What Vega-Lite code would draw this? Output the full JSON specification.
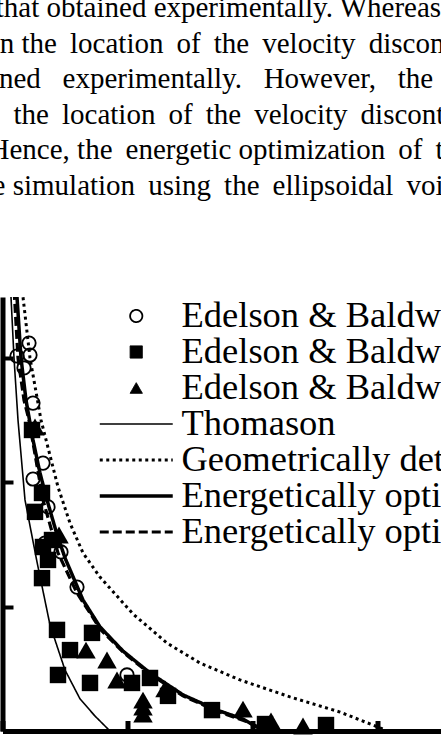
{
  "$schema": "https://vega.github.io/schema/vega-lite/v6.json",
  "autosize": "none",
  "width": 438.5,
  "height": 434,
  "padding": {"left": 2.5, "top": 297, "right": 0, "bottom": 7},
  "background": "white",
  "title": {
    "text": [
      "s\u00a0\u00a0that obtained experimentally. Whereas as",
      "n\u00a0in the\u2009 location\u2009 of\u2009 the\u2009 velocity\u2009 discontinuity",
      "tained \u00a0\u00a0experimentally. \u00a0\u00a0However, \u00a0\u00a0the",
      "on\u00a0\u00a0the\u2009 location\u2009 of\u2009 the\u2009 velocity\u2009 discontinuity",
      "s\u00a0Hence, the\u2009 energetic optimization\u2009 of\u2009 the",
      "\u00a0the simulation\u2009 using\u2009 the\u2009 ellipsoidal\u2009 voids"
    ],
    "anchor": "start",
    "frame": "group",
    "dx": -32.5,
    "offset": 96,
    "font": "Liberation Serif",
    "fontSize": 29,
    "fontWeight": "normal",
    "color": "black",
    "lineHeight": 35.6
  },
  "datasets": {
    "points": [
      {"series": "Edelson & Baldwin (1)", "x": 0.0106, "y": 1.558},
      {"series": "Edelson & Baldwin (1)", "x": 0.0058, "y": 1.506},
      {"series": "Edelson & Baldwin (1)", "x": 0.0110, "y": 1.510},
      {"series": "Edelson & Baldwin (1)", "x": 0.0086, "y": 1.458},
      {"series": "Edelson & Baldwin (1)", "x": 0.0122, "y": 1.317},
      {"series": "Edelson & Baldwin (1)", "x": 0.0162, "y": 1.076},
      {"series": "Edelson & Baldwin (1)", "x": 0.0122, "y": 1.012},
      {"series": "Edelson & Baldwin (1)", "x": 0.0182, "y": 0.900},
      {"series": "Edelson & Baldwin (1)", "x": 0.0170, "y": 0.755},
      {"series": "Edelson & Baldwin (1)", "x": 0.0234, "y": 0.719},
      {"series": "Edelson & Baldwin (1)", "x": 0.0298, "y": 0.578},
      {"series": "Edelson & Baldwin (1)", "x": 0.0498, "y": 0.225},
      {"series": "Edelson & Baldwin (2)", "x": 0.0118, "y": 1.209},
      {"series": "Edelson & Baldwin (2)", "x": 0.0158, "y": 0.956},
      {"series": "Edelson & Baldwin (2)", "x": 0.0130, "y": 0.880},
      {"series": "Edelson & Baldwin (2)", "x": 0.0198, "y": 0.767},
      {"series": "Edelson & Baldwin (2)", "x": 0.0162, "y": 0.739},
      {"series": "Edelson & Baldwin (2)", "x": 0.0182, "y": 0.687},
      {"series": "Edelson & Baldwin (2)", "x": 0.0158, "y": 0.614},
      {"series": "Edelson & Baldwin (2)", "x": 0.0218, "y": 0.406},
      {"series": "Edelson & Baldwin (2)", "x": 0.0270, "y": 0.325},
      {"series": "Edelson & Baldwin (2)", "x": 0.0358, "y": 0.394},
      {"series": "Edelson & Baldwin (2)", "x": 0.0222, "y": 0.225},
      {"series": "Edelson & Baldwin (2)", "x": 0.0350, "y": 0.193},
      {"series": "Edelson & Baldwin (2)", "x": 0.0518, "y": 0.193},
      {"series": "Edelson & Baldwin (2)", "x": 0.0590, "y": 0.213},
      {"series": "Edelson & Baldwin (2)", "x": 0.0662, "y": 0.141},
      {"series": "Edelson & Baldwin (2)", "x": 0.0838, "y": 0.084},
      {"series": "Edelson & Baldwin (2)", "x": 0.1050, "y": 0.028},
      {"series": "Edelson & Baldwin (2)", "x": 0.1294, "y": 0.024},
      {"series": "Edelson & Baldwin (3)", "x": 0.0130, "y": 1.221},
      {"series": "Edelson & Baldwin (3)", "x": 0.0226, "y": 0.787},
      {"series": "Edelson & Baldwin (3)", "x": 0.0334, "y": 0.325},
      {"series": "Edelson & Baldwin (3)", "x": 0.0418, "y": 0.285},
      {"series": "Edelson & Baldwin (3)", "x": 0.0458, "y": 0.205},
      {"series": "Edelson & Baldwin (3)", "x": 0.0562, "y": 0.124},
      {"series": "Edelson & Baldwin (3)", "x": 0.0562, "y": 0.096},
      {"series": "Edelson & Baldwin (3)", "x": 0.0562, "y": 0.068},
      {"series": "Edelson & Baldwin (3)", "x": 0.0650, "y": 0.169},
      {"series": "Edelson & Baldwin (3)", "x": 0.0962, "y": 0.088},
      {"series": "Edelson & Baldwin (3)", "x": 0.1074, "y": 0.040},
      {"series": "Edelson & Baldwin (3)", "x": 0.1202, "y": 0.020}
    ],
    "curves": [
      {"series": "Thomason", "x": 0.0022, "y": 2.133},
      {"series": "Thomason", "x": 0.0034, "y": 1.743},
      {"series": "Thomason", "x": 0.0046, "y": 1.498},
      {"series": "Thomason", "x": 0.0062, "y": 1.249},
      {"series": "Thomason", "x": 0.0090, "y": 0.928},
      {"series": "Thomason", "x": 0.0138, "y": 0.679},
      {"series": "Thomason", "x": 0.0190, "y": 0.426},
      {"series": "Thomason", "x": 0.0250, "y": 0.245},
      {"series": "Thomason", "x": 0.0310, "y": 0.129},
      {"series": "Thomason", "x": 0.0370, "y": 0.060},
      {"series": "Thomason", "x": 0.0430, "y": 0.0},
      {"series": "Geometrically determined", "x": 0.0062, "y": 2.133},
      {"series": "Geometrically determined", "x": 0.0082, "y": 1.743},
      {"series": "Geometrically determined", "x": 0.0110, "y": 1.498},
      {"series": "Geometrically determined", "x": 0.0154, "y": 1.249},
      {"series": "Geometrically determined", "x": 0.0222, "y": 0.980},
      {"series": "Geometrically determined", "x": 0.0270, "y": 0.835},
      {"series": "Geometrically determined", "x": 0.0322, "y": 0.715},
      {"series": "Geometrically determined", "x": 0.0390, "y": 0.618},
      {"series": "Geometrically determined", "x": 0.0458, "y": 0.542},
      {"series": "Geometrically determined", "x": 0.0522, "y": 0.470},
      {"series": "Geometrically determined", "x": 0.0658, "y": 0.353},
      {"series": "Geometrically determined", "x": 0.0790, "y": 0.273},
      {"series": "Geometrically determined", "x": 0.0950, "y": 0.205},
      {"series": "Geometrically determined", "x": 0.1150, "y": 0.137},
      {"series": "Geometrically determined", "x": 0.1350, "y": 0.076},
      {"series": "Geometrically determined", "x": 0.1522, "y": 0.008},
      {"series": "Energetically optimized", "x": 0.0046, "y": 2.133},
      {"series": "Energetically optimized", "x": 0.0058, "y": 1.743},
      {"series": "Energetically optimized", "x": 0.0074, "y": 1.498},
      {"series": "Energetically optimized", "x": 0.0094, "y": 1.329},
      {"series": "Energetically optimized", "x": 0.0122, "y": 1.169},
      {"series": "Energetically optimized", "x": 0.0150, "y": 1.036},
      {"series": "Energetically optimized", "x": 0.0178, "y": 0.928},
      {"series": "Energetically optimized", "x": 0.0214, "y": 0.803},
      {"series": "Energetically optimized", "x": 0.0250, "y": 0.695},
      {"series": "Energetically optimized", "x": 0.0322, "y": 0.526},
      {"series": "Energetically optimized", "x": 0.0390, "y": 0.418},
      {"series": "Energetically optimized", "x": 0.0482, "y": 0.321},
      {"series": "Energetically optimized", "x": 0.0590, "y": 0.233},
      {"series": "Energetically optimized", "x": 0.0722, "y": 0.145},
      {"series": "Energetically optimized", "x": 0.0858, "y": 0.084},
      {"series": "Energetically optimized", "x": 0.0962, "y": 0.048},
      {"series": "Energetically optimized", "x": 0.1038, "y": 0.004},
      {"series": "Energetically optimized (ellipsoidal)", "x": 0.0038, "y": 2.133},
      {"series": "Energetically optimized (ellipsoidal)", "x": 0.0048, "y": 1.743},
      {"series": "Energetically optimized (ellipsoidal)", "x": 0.0062, "y": 1.498},
      {"series": "Energetically optimized (ellipsoidal)", "x": 0.0086, "y": 1.329},
      {"series": "Energetically optimized (ellipsoidal)", "x": 0.0106, "y": 1.249},
      {"series": "Energetically optimized (ellipsoidal)", "x": 0.0162, "y": 0.928},
      {"series": "Energetically optimized (ellipsoidal)", "x": 0.0222, "y": 0.715},
      {"series": "Energetically optimized (ellipsoidal)", "x": 0.0298, "y": 0.554},
      {"series": "Energetically optimized (ellipsoidal)", "x": 0.0350, "y": 0.474},
      {"series": "Energetically optimized (ellipsoidal)", "x": 0.0390, "y": 0.410},
      {"series": "Energetically optimized (ellipsoidal)", "x": 0.0482, "y": 0.317},
      {"series": "Energetically optimized (ellipsoidal)", "x": 0.0590, "y": 0.229},
      {"series": "Energetically optimized (ellipsoidal)", "x": 0.0722, "y": 0.141},
      {"series": "Energetically optimized (ellipsoidal)", "x": 0.0858, "y": 0.080},
      {"series": "Energetically optimized (ellipsoidal)", "x": 0.0970, "y": 0.040},
      {"series": "Energetically optimized (ellipsoidal)", "x": 0.1050, "y": 0.004}
    ]
  },
  "encoding": {
    "x": {
      "field": "x", "type": "quantitative",
      "scale": {"domain": [0, 0.1754], "nice": false, "zero": false},
      "axis": {"values": [0, 0.05, 0.1, 0.15], "tickWidth": 5}
    },
    "y": {
      "field": "y", "type": "quantitative",
      "scale": {"domain": [0, 1.743], "nice": false, "zero": false},
      "axis": {"values": [0, 0.5, 1, 1.5], "tickWidth": 4}
    }
  },
  "layer": [
    {
      "data": {"name": "curves"},
      "mark": {"type": "line", "color": "black", "clip": true, "strokeCap": "butt"},
      "encoding": {
        "detail": {"field": "series", "type": "nominal"},
        "strokeDash": {
          "field": "series", "type": "nominal",
          "scale": {
            "domain": ["Edelson & Baldwin (1)", "Edelson & Baldwin (2)", "Edelson & Baldwin (3)", "Thomason", "Geometrically determined", "Energetically optimized", "Energetically optimized (ellipsoidal)"],
            "range": [[1, 0], [1, 0], [1, 0], [1, 0], [3, 3.5], [1, 0], [9, 4]]
          },
          "legend": {"title": null}
        },
        "strokeWidth": {
          "field": "series", "type": "nominal",
          "scale": {
            "type": "ordinal",
            "domain": ["Edelson & Baldwin (1)", "Edelson & Baldwin (2)", "Edelson & Baldwin (3)", "Thomason", "Geometrically determined", "Energetically optimized", "Energetically optimized (ellipsoidal)"],
            "range": [1.8, 1, 1, 1.6, 3, 3.5, 3.2]
          },
          "legend": {"title": null}
        }
      }
    },
    {
      "data": {"name": "points"},
      "transform": [{"filter": "datum.series === 'Edelson & Baldwin (1)'"}],
      "mark": {"type": "point", "filled": false, "color": "black", "opacity": 1, "strokeWidth": 1.8, "size": 180},
      "encoding": {
        "shape": {
          "field": "series", "type": "nominal",
          "scale": {
            "domain": ["Edelson & Baldwin (1)", "Edelson & Baldwin (2)", "Edelson & Baldwin (3)", "Thomason", "Geometrically determined", "Energetically optimized", "Energetically optimized (ellipsoidal)"],
            "range": ["circle", "square", "triangle-up", "M-5.96,0H5.96", "M-5.96,0H5.96", "M-5.96,0H5.96", "M-5.96,0H5.96"]
          },
          "legend": {"title": null}
        },
        "fill": {
          "field": "series", "type": "nominal",
          "scale": {
            "domain": ["Edelson & Baldwin (1)", "Edelson & Baldwin (2)", "Edelson & Baldwin (3)", "Thomason", "Geometrically determined", "Energetically optimized", "Energetically optimized (ellipsoidal)"],
            "range": ["transparent", "black", "black", "black", "black", "black", "black"]
          },
          "legend": {"title": null}
        }
      }
    },
    {
      "data": {"name": "points"},
      "transform": [{"filter": "datum.series === 'Edelson & Baldwin (2)'"}],
      "mark": {"type": "point", "filled": true, "color": "black", "opacity": 1, "size": 270},
      "encoding": {
        "shape": {
          "field": "series", "type": "nominal",
          "scale": {
            "domain": ["Edelson & Baldwin (1)", "Edelson & Baldwin (2)", "Edelson & Baldwin (3)", "Thomason", "Geometrically determined", "Energetically optimized", "Energetically optimized (ellipsoidal)"],
            "range": ["circle", "square", "triangle-up", "M-5.96,0H5.96", "M-5.96,0H5.96", "M-5.96,0H5.96", "M-5.96,0H5.96"]
          },
          "legend": {"title": null}
        }
      }
    },
    {
      "data": {"name": "points"},
      "transform": [{"filter": "datum.series === 'Edelson & Baldwin (3)'"}],
      "mark": {"type": "point", "filled": true, "color": "black", "opacity": 1, "size": 380},
      "encoding": {
        "shape": {
          "field": "series", "type": "nominal",
          "scale": {
            "domain": ["Edelson & Baldwin (1)", "Edelson & Baldwin (2)", "Edelson & Baldwin (3)", "Thomason", "Geometrically determined", "Energetically optimized", "Energetically optimized (ellipsoidal)"],
            "range": ["circle", "square", "triangle-up", "M-5.96,0H5.96", "M-5.96,0H5.96", "M-5.96,0H5.96", "M-5.96,0H5.96"]
          },
          "legend": {"title": null}
        }
      }
    }
  ],
  "config": {
    "font": "Liberation Serif",
    "view": {"stroke": null},
    "axis": {
      "labels": false,
      "title": null,
      "grid": false,
      "domainColor": "black",
      "domainWidth": 5,
      "tickColor": "black",
      "tickSize": -10.5
    },
    "legend": {
      "orient": "none",
      "legendX": 96.5,
      "legendY": 2,
      "padding": 0,
      "labelFont": "Liberation Serif",
      "labelFontSize": 36.5,
      "labelColor": "black",
      "labelLimit": 1000,
      "symbolSize": 150,
      "symbolOffset": 19,
      "labelOffset": 27,
      "clipHeight": 34,
      "rowPadding": -2.5
    }
  }
}
